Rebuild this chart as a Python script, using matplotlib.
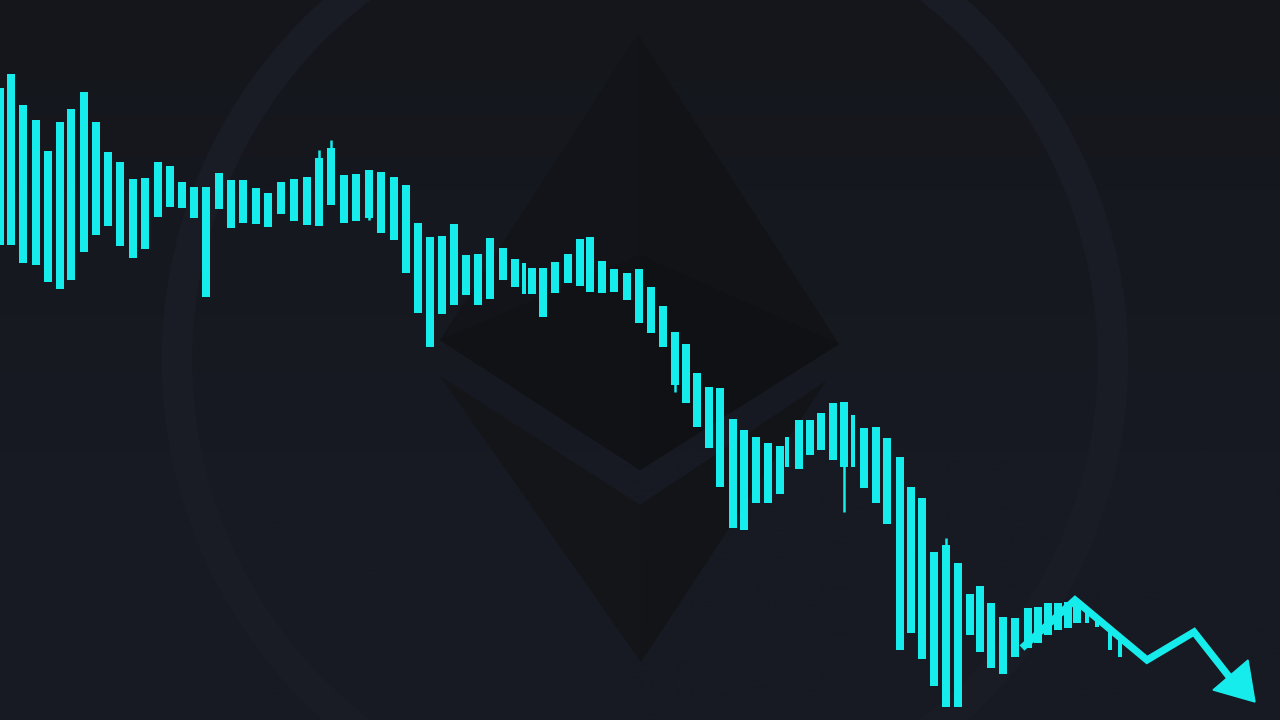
import matplotlib
matplotlib.use("Agg")
import matplotlib.pyplot as plt
import numpy as np
from matplotlib.patches import Polygon, Circle

# ---- data: time position, bar high, bar low (read as pixel rows, converted below) ----
t = [0, 11, 23, 36, 48, 60, 71, 84, 96, 108, 120, 133, 145, 158, 170, 182, 194, 206,
     219, 231, 243, 256, 268, 281, 294, 307, 319, 331, 344, 356, 369, 381, 394, 406,
     418, 430, 442, 454, 466, 478, 490, 503, 515, 524, 532, 543, 555, 568, 580, 590,
     602, 614, 627, 639, 651, 663, 675, 686, 697, 709, 720, 733, 744, 756, 768, 780,
     787, 799, 810, 821, 833, 844, 853, 864, 876, 887, 900, 911, 922, 934, 946, 958,
     970, 980, 991, 1003, 1015, 1028, 1038, 1048, 1058, 1068, 1077, 1087, 1097, 1110, 1120]
top_px = [88, 74, 105, 120, 151, 122, 109, 92, 122, 152, 162, 179, 178, 162, 166, 182, 187, 187,
          173, 180, 180, 188, 193, 182, 179, 177, 158, 148, 175, 174, 170, 172, 177, 185,
          223, 237, 236, 224, 255, 254, 238, 248, 259, 263, 268, 268, 262, 254, 239, 237,
          261, 269, 273, 269, 287, 306, 332, 344, 373, 387, 388, 419, 430, 437, 443, 446,
          437, 420, 420, 413, 403, 402, 415, 428, 427, 438, 457, 487, 498, 552, 545, 563,
          594, 586, 603, 617, 618, 608, 607, 603, 603, 602, 600, 608, 617, 628, 637]
bot_px = [245, 245, 263, 265, 282, 289, 280, 252, 235, 226, 246, 258, 249, 217, 207, 208, 218, 297,
          209, 228, 223, 224, 227, 214, 221, 225, 226, 205, 223, 221, 218, 233, 240, 273,
          313, 347, 314, 305, 295, 305, 299, 280, 287, 294, 294, 317, 293, 283, 286, 292,
          293, 292, 300, 323, 333, 347, 385, 403, 427, 448, 487, 528, 530, 503, 503, 494,
          467, 469, 455, 450, 460, 467, 467, 488, 503, 524, 650, 633, 659, 686, 707, 707,
          635, 652, 668, 674, 657, 648, 643, 635, 630, 628, 623, 623, 627, 650, 657]
thin = [524, 787, 853, 1087, 1097, 1110, 1120]

# wicks
wick_t = [844, 675, 369, 331, 319, 946]
wick_hi_px = [460, 380, 205, 140, 150, 538]
wick_lo_px = [512, 392, 220, 150, 160, 548]

# trend arrow
arrow_t = [1022, 1075, 1147, 1194, 1238]
arrow_px = [648, 600, 660, 632, 688]

H = 720
high = [H - v for v in top_px]
low = [H - v for v in bot_px]
wick_hi = [H - v for v in wick_hi_px]
wick_lo = [H - v for v in wick_lo_px]
arrow_v = [H - v for v in arrow_px]

CYAN = "#17ecec"
BG = "#161920"

fig = plt.figure(figsize=(12.8, 7.2), dpi=100)
fig.patch.set_facecolor(BG)
ax = fig.add_axes([0, 0, 1, 1])
ax.set_xlim(0, 1280)
ax.set_ylim(0, 720)
ax.axis("off")

# background gradient (slightly darker at the top)
g = np.linspace(0, 1, 256)
c_top = np.array([0x14, 0x16, 0x1b]) / 255
c_mid = np.array([0x17, 0x1a, 0x22]) / 255
w = np.clip(g * 1.6, 0, 1)[:, None] ** 0.8
img = (c_top + (c_mid - c_top) * w).reshape(256, 1, 3)
ax.imshow(img, extent=[0, 1280, 0, 720], aspect="auto", origin="upper", zorder=0)

# very faint coin ring
ax.add_patch(Circle((645, 360), 468, fill=False, ec="#191c25", lw=22, zorder=1))

# Ethereum logo (dark silhouette)
def P(pts, c):
    ax.add_patch(Polygon([(x, H - y) for x, y in pts], closed=True, fc=c, ec="none", zorder=1))

P([(638, 34), (440, 340), (640, 470)], "#121419")
P([(638, 34), (839, 344), (640, 470)], "#111317")
P([(440, 340), (640, 255), (640, 470)], "#101216")
P([(839, 344), (640, 255), (640, 470)], "#0f1115")
P([(440, 376), (640, 505), (641, 662)], "#131519")
P([(826, 381), (640, 505), (641, 662)], "#121418")

# bars
widths = [4.5 if x in thin else 7.5 for x in t]
heights = [h - l for h, l in zip(high, low)]
ax.bar(t, heights, bottom=low, width=widths, color=CYAN, edgecolor="none", zorder=3)
ax.vlines(wick_t, wick_lo, wick_hi, color=CYAN, lw=1.8, zorder=3)

# arrow line + head
ax.plot(arrow_t, arrow_v, color=CYAN, lw=5.2, solid_joinstyle="miter",
        solid_capstyle="butt", zorder=4)
ax.add_patch(Polygon([(1255, H - 702), (1213, H - 690), (1248, H - 660)], closed=True,
                     fc=CYAN, ec=CYAN, lw=1, zorder=4))

fig.savefig("out.png", dpi=100, facecolor=BG)
